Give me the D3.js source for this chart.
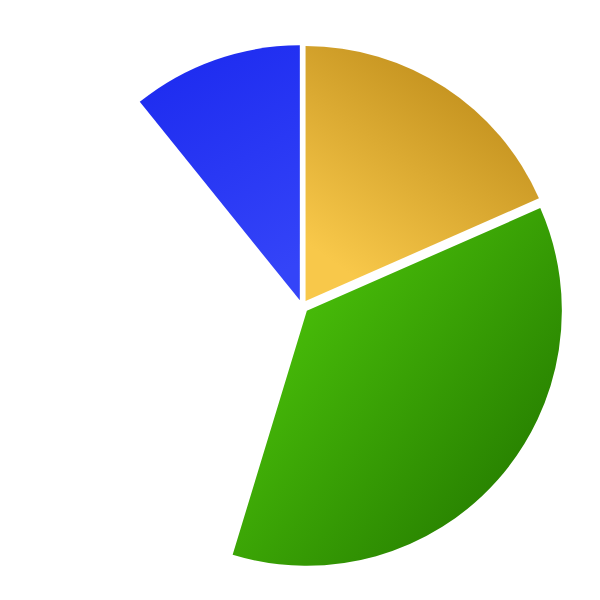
<!DOCTYPE html>
<html>
<head>
<meta charset="utf-8">
<script src="https://cdn.jsdelivr.net/npm/d3@7"></script>
<style>
  html, body { margin: 0; padding: 0; background: #ffffff; }
  svg { display: block; }
</style>
</head>
<body>
<svg id="chart" width="600" height="600"></svg>
<script>
// Data (slices in clockwise order from 12 o'clock); the "gap" slice is not drawn
const categories = ["A", "B", "C", "D"];
const values = [18.4, 36.3, 34.5, 10.8];
const visible = [true, true, false, true];
const lightColors = ["#f8c84a", "#4cc40a", "#ffffff", "#3444f8"];
const darkColors  = ["#be8c1a", "#267e00", "#ffffff", "#1e2cf0"];

const W = 600, H = 600;
const cx = 302, cy = 306.5, radius = 255, explode = 6.5;

const svg = d3.select("#chart");
const defs = svg.append("defs");

const pie = d3.pie().sort(null).value(d => d.value);
const arc = d3.arc().innerRadius(0).outerRadius(radius);

const data = categories.map((c, i) => ({ name: c, value: values[i], i }));
const arcs = pie(data);

arcs.forEach(a => {
  const mid = (a.startAngle + a.endAngle) / 2;
  const s = Math.sin(mid), c = Math.cos(mid);
  const g = defs.append("linearGradient")
    .attr("id", "grad" + a.data.i)
    .attr("x1", 0.5 - 0.5 * s).attr("y1", 0.5 + 0.5 * c)
    .attr("x2", 0.5 + 0.5 * s).attr("y2", 0.5 - 0.5 * c);
  g.append("stop").attr("offset", "0%").attr("stop-color", lightColors[a.data.i]);
  g.append("stop").attr("offset", "100%").attr("stop-color", darkColors[a.data.i]);
});

const root = svg.append("g").attr("transform", `translate(${cx},${cy})`);

root.selectAll("path.slice")
  .data(arcs.filter(a => visible[a.data.i]))
  .join("path")
  .attr("class", "slice")
  .attr("d", arc)
  .attr("fill", a => `url(#grad${a.data.i})`)
  .attr("transform", a => {
    const mid = (a.startAngle + a.endAngle) / 2;
    return `translate(${explode * Math.sin(mid)},${-explode * Math.cos(mid)})`;
  });
</script>
</body>
</html>
